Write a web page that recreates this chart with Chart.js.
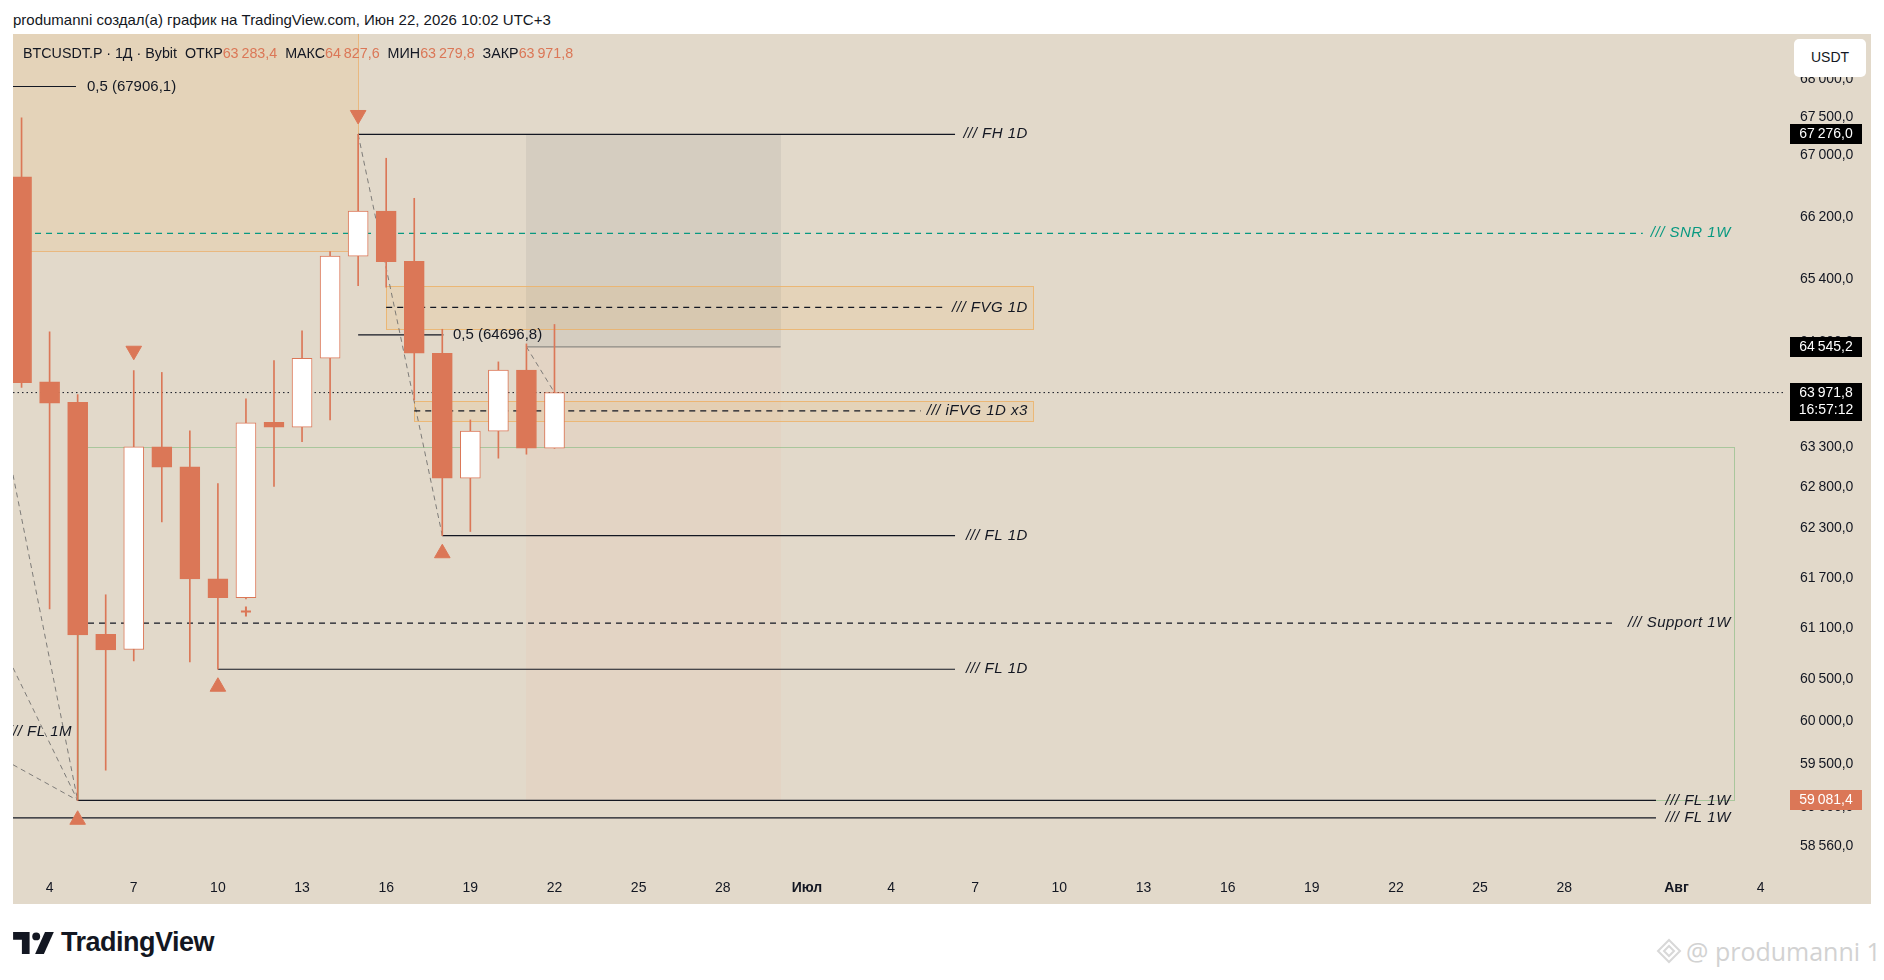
<!DOCTYPE html>
<html>
<head>
<meta charset="utf-8">
<script src="https://cdn.jsdelivr.net/npm/chart.js@4.4.1/dist/chart.umd.min.js"></script>
<style>
  body { margin: 0; background: #fff; width: 1884px; height: 980px; overflow: hidden; font-family: "Liberation Sans", Arial, sans-serif; color: #131722; }
  #hdr { position: absolute; left: 13px; top: 11px; font-size: 15px; }
  #panel { position: absolute; left: 13px; top: 34px; width: 1858px; height: 870px; background: #e2d9ca; }
  #legend { position: absolute; left: 10px; top: 11px; font-size: 14.3px; white-space: pre; }
  #legend .v { color: #db7757; }
  #usdt { position: absolute; left: 1781px; top: 5px; width: 72px; height: 38px; background: #fff; border-radius: 5px; font-size: 14px; line-height: 36px; text-align: center; }
  #logo { position: absolute; left: 13px; top: 927px; font-size: 27px; font-weight: bold; letter-spacing: -0.5px; display: flex; align-items: center; gap: 6px; }
  #wm { position: absolute; left: 1656px; top: 934px; font-size: 25px; color: #d2d2d2; font-family: "Open Sans", sans-serif; display: flex; align-items: center; gap: 4px; }
</style>
</head>
<body>
<div id="hdr">produmanni создал(а) график на TradingView.com, Июн 22, 2026 10:02 UTC+3</div>
<div id="panel">
  <canvas id="c" width="1858" height="870"></canvas>
  <div id="legend"></div>
  <div id="usdt">USDT</div>
</div>
<div id="logo">
  <svg width="42" height="22" viewBox="0 0 38 20"><path d="M0 0h15v20H8V7H0z" fill="#131722"/><circle cx="21" cy="4" r="3.6" fill="#131722"/><path d="M29 0h8l-9 20h-8z" fill="#131722"/></svg>
  <span>TradingView</span>
</div>
<div id="wm">
  <svg width="26" height="26" viewBox="0 0 26 26"><path d="M13 2l11 11-11 11L2 13z" fill="none" stroke="#d8d8d8" stroke-width="2"/><path d="M13 8l5 5-5 5-5-5z" fill="none" stroke="#d8d8d8" stroke-width="2"/></svg>
  <span>@ produmanni 1</span>
</div>
<script>
// дневные свечи BTCUSDT.P (день месяца, июнь)
const days   = [3, 4, 5, 6, 7, 8, 9, 10, 11, 12, 13, 14, 15, 16, 17, 18, 19, 20, 21, 22];
const opens  = [66720, 64107, 63850, 61025, 60846, 63298, 63054, 61690, 61463, 63601, 63542, 64402, 65696, 66275, 65631, 64465, 62913, 63492, 64252, 63283.4];
const highs  = [67492, 64733, 63947, 61499, 64248, 64224, 63496, 62846, 63895, 64372, 64746, 65755, 67276, 66963, 66442, 64767, 63632, 64356, 64582, 64827.6];
const lows   = [64035, 61329, 59081.4, 59431, 60712, 62379, 60700, 60612, 61450, 62811, 63364, 63632, 65320, 65300, 63881, 62213, 62262, 63159, 63208, 63279.8];
const closes = [64095, 63841, 61019, 60840, 63298, 63048, 61690, 61463, 63595, 63543, 64402, 65696, 66275, 65626, 64465, 62913, 63492, 64252, 63283.4, 63971.8];

// оси
const xTickDays   = [4, 7, 10, 13, 16, 19, 22, 25, 28, 31, 34, 37, 40, 43, 46, 49, 52, 55, 58, 62, 65];
const xTickLabels = ['4', '7', '10', '13', '16', '19', '22', '25', '28', 'Июл', '4', '7', '10', '13', '16', '19', '22', '25', '28', 'Авг', '4'];
const yTicks = [68000, 67500, 67000, 66200, 65400, 64600, 63300, 62800, 62300, 61700, 61100, 60500, 60000, 59500, 59000, 58560];
const xRange = [2.695, 65.87];
const yRange = [58240, 68605];

// разметка: [день начала, день конца, цена]
const solidLevels  = [[15, 36.28, 67276], [18, 36.28, 62213], [10, 36.28, 60612], [5, 61.27, 59081.4], [0, 61.27, 58882], [0, 4.94, 67906.1], [15, 18.04, 64696.8]];
const dashedLevels = [[5.37, 59.88, 61160], [16, 35.85, 65043.5], [17, 35.06, 63743.5]];
const snrLevels    = [[3.48, 60.8, 65990]];
const entryLevels  = [[21, 30.06, 64545.2]];
// зигзаги: [[день, цена], [день, цена]]
const zigzags = [
  [[15, 67276], [18, 62213]],
  [[21, 64545.2], [22, 63971.8]],
  [[2.695, 62954], [5, 59081.4]],
  [[2.695, 60629], [5, 59081.4]],
  [[2.695, 59494], [5, 59081.4]]
];
// прямоугольники: [день1, день2, цена низ, цена верх]
const fibBox    = [0, 15, 65760, 70052];
const fvgBox    = [16, 39.06, 64767, 65320];
const ifvgBox   = [17, 39.06, 63623, 63864];
const riskBox   = [21, 30.06, 64545.2, 67276];
const rewardBox = [21, 30.06, 59081.4, 64545.2];
const rangeBox  = [5, 64.05, 59081.4, 63300];
// подписи: [день, цена, текст]
const levelLabels = [
  [38.88, 67276, '/// FH 1D'], [38.88, 65043.5, '/// FVG 1D'], [38.88, 63743.5, '/// iFVG 1D x3'],
  [38.88, 62213, '/// FL 1D'], [38.88, 60612, '/// FL 1D'],
  [63.94, 65990, '/// SNR 1W'], [63.94, 61160, '/// Support 1W'], [63.94, 59081.4, '/// FL 1W'], [63.94, 58882, '/// FL 1W'],
  [4.80, 59877, '/// FL 1M'],
  [18.38, 64696.8, '0,5 (64696,8)'], [5.33, 67906.1, '0,5 (67906,1)']
];
// маркеры
const downDays = [7, 15];      const downPrices = [64496, 67530];
const upDays   = [5, 10, 18];  const upPrices   = [58859, 60406, 61999];
const plusDays = [11];         const plusPrices = [61300];
// метки на шкале цен
const axisMarks = [67276, 64545.2];
const lastPrice = closes[closes.length - 1];
const countdown = '16:57:12';
const lowMark = 59081.4;

const ORANGE = '#db7757';
const INK = '#131722';

function fmt(v) {
  const s = v.toFixed(1).split('.');
  return s[0].replace(/\B(?=(\d{3})+(?!\d))/g, '\u202F') + ',' + s[1];
}

const n = days.length - 1;
document.getElementById('legend').innerHTML =
  'BTCUSDT.P · 1Д · Bybit  ОТКР<span class="v">' + fmt(opens[n]) + '</span>  МАКС<span class="v">' + fmt(highs[n]) +
  '</span>  МИН<span class="v">' + fmt(lows[n]) + '</span>  ЗАКР<span class="v">' + fmt(closes[n]) + '</span>';

function seg(lv) { return [{ x: lv[0], y: lv[2] }, { x: lv[1], y: lv[2] }]; }
function lineSet(data, color, dash, width) {
  return { type: 'line', data: data, borderColor: color, borderWidth: width || 1, borderDash: dash || [], pointRadius: 0, order: 5, tension: 0 };
}

const datasets = [];
// тела и тени свечей
datasets.push({
  type: 'bar', data: days.map((d, i) => ({ x: d, y: [lows[i], highs[i]] })),
  backgroundColor: ORANGE, barThickness: 1, grouped: false, order: 2
});
datasets.push({
  type: 'bar', data: days.map((d, i) => ({ x: d, y: [opens[i], closes[i]] })),
  backgroundColor: days.map((d, i) => closes[i] >= opens[i] ? '#ffffff' : ORANGE),
  borderColor: ORANGE, borderWidth: 1, borderSkipped: false, barThickness: 20, grouped: false, order: 1
});
solidLevels.forEach(lv => datasets.push(lineSet(seg(lv), INK, [], 1.2)));
dashedLevels.forEach(lv => datasets.push(lineSet(seg(lv), INK, [6, 5], 1.2)));
snrLevels.forEach(lv => datasets.push(lineSet(seg(lv), '#089981', [6, 5], 1.2)));
entryLevels.forEach(lv => datasets.push(lineSet(seg(lv), '#8d8a84', [], 1.2)));
zigzags.forEach(z => datasets.push(lineSet(z.map(p => ({ x: p[0], y: p[1] })), 'rgba(100,100,100,0.8)', [5, 4], 1)));
datasets.push(lineSet(seg([xRange[0], xRange[1], lastPrice]), INK, [1.5, 3], 1));
datasets.push({ type: 'scatter', data: downDays.map((d, i) => ({ x: d, y: downPrices[i] })), pointStyle: 'triangle', rotation: 180, radius: 9, backgroundColor: ORANGE, borderColor: ORANGE, order: 0 });
datasets.push({ type: 'scatter', data: upDays.map((d, i) => ({ x: d, y: upPrices[i] })), pointStyle: 'triangle', radius: 9, backgroundColor: ORANGE, borderColor: ORANGE, order: 0 });
datasets.push({ type: 'scatter', data: plusDays.map((d, i) => ({ x: d, y: plusPrices[i] })), pointStyle: 'cross', radius: 5, borderWidth: 2, borderColor: ORANGE, order: 0 });

const drawings = {
  id: 'drawings',
  beforeDatasetsDraw(chart) {
    const { ctx, chartArea: a, scales: { x, y } } = chart;
    ctx.save();
    ctx.beginPath(); ctx.rect(a.left, a.top, a.right - a.left, a.bottom - a.top); ctx.clip();
    const box = (b, fill, stroke) => {
      const x1 = Math.round(x.getPixelForValue(b[0])), x2 = Math.round(x.getPixelForValue(b[1]));
      const y1 = Math.round(y.getPixelForValue(b[3])), y2 = Math.round(y.getPixelForValue(b[2]));
      if (fill) { ctx.fillStyle = fill; ctx.fillRect(x1, y1, x2 - x1, y2 - y1); }
      if (stroke) { ctx.strokeStyle = stroke; ctx.lineWidth = 1; ctx.strokeRect(x1 + 0.5, y1 + 0.5, x2 - x1, y2 - y1); }
    };
    box(fibBox, 'rgba(245,166,35,0.10)', 'rgba(236,170,95,0.7)');
    box(riskBox, 'rgba(110,112,120,0.11)');
    box(rewardBox, 'rgba(242,80,69,0.035)');
    box(fvgBox, 'rgba(245,166,35,0.10)', 'rgba(236,178,105,0.85)');
    box(ifvgBox, 'rgba(245,166,35,0.10)', 'rgba(236,178,105,0.85)');
    box(rangeBox, null, 'rgba(100,175,100,0.45)');
    ctx.restore();
  },
  afterDatasetsDraw(chart) {
    const { ctx, chartArea: a, scales: { x, y } } = chart;
    ctx.save();
    ctx.beginPath(); ctx.rect(a.left, a.top, a.right - a.left, a.bottom - a.top); ctx.clip();
    ctx.textBaseline = 'middle';
    levelLabels.forEach(l => {
      const tagged = l[2].startsWith('///');
      ctx.font = (tagged ? 'italic ' : '') + '15px "Liberation Sans", Arial, sans-serif';
      ctx.letterSpacing = tagged ? '0.5px' : '0px';
      ctx.textAlign = tagged ? 'right' : 'left';
      ctx.fillStyle = l[2].indexOf('SNR') >= 0 ? '#089981' : INK;
      ctx.fillText(l[2], x.getPixelForValue(l[0]), y.getPixelForValue(l[1]));
    });
    ctx.restore();
  },
  afterDraw(chart) {
    const { ctx, scales: { y } } = chart;
    const left = chart.width - 81, w = 72;
    ctx.save();
    ctx.font = '14px "Liberation Sans", Arial, sans-serif';
    ctx.textAlign = 'center'; ctx.textBaseline = 'middle';
    const tag = (price, bg, text2) => {
      const py = Math.round(y.getPixelForValue(price));
      const h = text2 ? 38 : 20;
      ctx.fillStyle = bg;
      ctx.fillRect(left, py - 10, w, h);
      ctx.fillStyle = '#fff';
      ctx.fillText(fmt(price), left + w / 2, py);
      if (text2) ctx.fillText(text2, left + w / 2, py + 17);
    };
    axisMarks.forEach(p => tag(p, '#000'));
    tag(lastPrice, '#000', countdown);
    tag(lowMark, ORANGE);
    ctx.restore();
  }
};

Chart.defaults.font.family = '"Liberation Sans", Arial, sans-serif';
Chart.defaults.font.size = 14;
Chart.defaults.color = INK;

new Chart(document.getElementById('c'), {
  type: 'bar',
  data: { datasets: datasets },
  options: {
    responsive: false,
    animation: false,
    layout: { padding: 0, autoPadding: false },
    plugins: { legend: { display: false }, tooltip: { enabled: false } },
    scales: {
      x: {
        type: 'linear', min: xRange[0], max: xRange[1], offset: false,
        grid: { display: false, drawTicks: false }, border: { display: false },
        afterBuildTicks: s => { s.ticks = xTickDays.map(v => ({ value: v })); },
        afterFit: s => { s.height = 30; s.paddingLeft = 0; s.paddingRight = 0; },
        ticks: {
          autoSkip: false, maxRotation: 0, padding: 6, color: INK,
          callback: v => xTickLabels[xTickDays.indexOf(v)],
          font: c => {
            const lab = xTickLabels[xTickDays.indexOf(c.tick ? c.tick.value : -1)] || '';
            return { size: 14, weight: isNaN(Number(lab)) ? 'bold' : 'normal' };
          }
        }
      },
      y: {
        type: 'logarithmic', position: 'right', min: yRange[0], max: yRange[1], bounds: 'data',
        grid: { display: false, drawTicks: false }, border: { display: false },
        afterBuildTicks: s => { s.ticks = yTicks.map(v => ({ value: v })); },
        afterFit: s => { s.width = 86; s.paddingTop = 0; s.paddingBottom = 0; },
        ticks: { autoSkip: false, padding: 15, color: INK, callback: v => fmt(v) }
      }
    }
  },
  plugins: [drawings]
});
</script>
</body>
</html>
